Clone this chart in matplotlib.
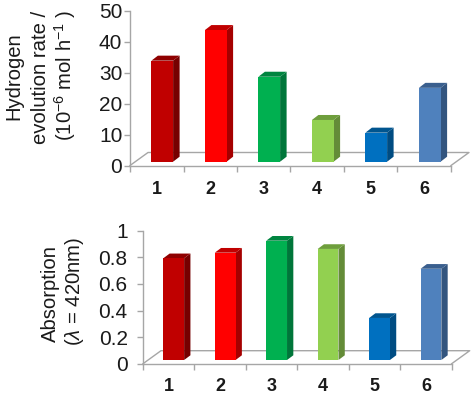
import matplotlib
matplotlib.use("Agg")
import matplotlib.pyplot as plt
from matplotlib.patches import Polygon
from matplotlib.transforms import Affine2D

plt.rcParams['font.family'] = ['Liberation Sans', 'DejaVu Sans']
plt.rcParams['mathtext.fontset'] = 'custom'
plt.rcParams['mathtext.rm'] = 'Liberation Sans'
plt.rcParams['mathtext.it'] = 'Liberation Sans:italic'
plt.rcParams['mathtext.default'] = 'regular'

W, H = 474, 395
categories = ['1', '2', '3', '4', '5', '6']
hydrogen_rate = [32.7, 42.6, 27.5, 13.5, 9.4, 23.9]
absorption = [0.765, 0.807, 0.897, 0.835, 0.316, 0.686]
hydrogen_ticks = [0, 10, 20, 30, 40, 50]
absorption_ticks = [0, 0.2, 0.4, 0.6, 0.8, 1]
absorption_ticklabels = ['0', '0.2', '0.4', '0.6', '0.8', '1']
front_colors = ['#C00000', '#FF0000', '#00B050', '#92D050', '#0070C0', '#4F81BD']
side_colors = ['#760000', '#A50000', '#00763A', '#648C38', '#004C82', '#33557F']
top_colors = ['#8F0000', '#C00000', '#008540', '#6E9E3C', '#00558F', '#3A5F8E']
GREY = '#A6A6A6'
TXT = '#1A1A1A'


def panel(box, values, yticks, yticklabels, ymax, bar_px, depth, shift, label_y, ypad, xpad):
    left, top, right, bottom = box
    ax = fig.add_axes([left / W, 1 - bottom / H, (right - left) / W, (bottom - top) / H])
    ax.set_xlim(0, 6)
    ax.set_ylim(0, ymax)
    ux = (right - left) / 6
    uy = (bottom - top) / ymax
    for s in ('top', 'right'):
        ax.spines[s].set_visible(False)
    for s in ('left', 'bottom'):
        ax.spines[s].set_color(GREY)
        ax.spines[s].set_linewidth(1.0)

    # floor of the 3D plot
    fx, fy = 18 / ux, 13 / uy
    ax.plot([0, fx, 6 + fx, 6], [0, fy, fy, 0], color=GREY, lw=1.0, clip_on=False, zorder=1)

    # bars with depth
    off = ax.transData + Affine2D().translate(shift[0], shift[1])
    w = bar_px / ux
    dx, dy = depth[0] / ux, depth[1] / uy
    xs = [i + 0.5 for i in range(len(values))]
    for i, (x, v) in enumerate(zip(xs, values)):
        x0, x1 = x - w / 2, x + w / 2
        ax.add_patch(Polygon([(x1, 0), (x1 + dx, dy), (x1 + dx, v + dy), (x1, v)],
                             fc=side_colors[i], ec='none', clip_on=False, zorder=3, transform=off))
        ax.add_patch(Polygon([(x0, v), (x1, v), (x1 + dx, v + dy), (x0 + dx, v + dy)],
                             fc=top_colors[i], ec='none', clip_on=False, zorder=3, transform=off))
    ax.bar(xs, values, width=w, color=front_colors, zorder=4, transform=off, clip_on=False)

    ax.set_yticks(yticks)
    ax.set_yticklabels(yticklabels, fontsize=15, color=TXT)
    ax.tick_params(axis='y', length=4, width=1, color=GREY, pad=ypad)
    ax.set_xticks(range(7))
    ax.set_xticklabels([])
    ax.tick_params(axis='x', which='major', length=4, width=1, color=GREY)
    ax.set_xticks(xs, minor=True)
    ax.set_xticklabels(categories, minor=True, fontsize=13, fontweight='bold', color=TXT)
    ax.tick_params(axis='x', which='minor', length=0, pad=xpad)
    for xp, yp, t in label_y:
        fig.text(xp / W, 1 - yp / H, t, rotation=90, ha='center', va='center',
                 fontsize=14.6, color=TXT)


fig = plt.figure(figsize=(W / 100, H / 100), dpi=100, facecolor='white')

panel((130, 11, 451, 165.5), hydrogen_rate, hydrogen_ticks, [str(t) for t in hydrogen_ticks],
      50, 21.7, (6.5, 5), (5.5, 3.8),
      [(14, 76, 'Hydrogen'), (40, 77, 'evolution rate /'),
       (65, 75, '(10$^{-6}$ mol h$^{-1}$ )')], 1.5, 11)

panel((143, 230.7, 451.7, 363.7), absorption, absorption_ticks, absorption_ticklabels,
      1, 20.8, (6.3, 4.7), (5.0, 3.7),
      [(50, 294, 'Absorption'), (75, 291, '($\\mathit{λ}$ = 420nm)')], 7, 10.5)

fig.savefig('out.png', dpi=100, facecolor='white')
